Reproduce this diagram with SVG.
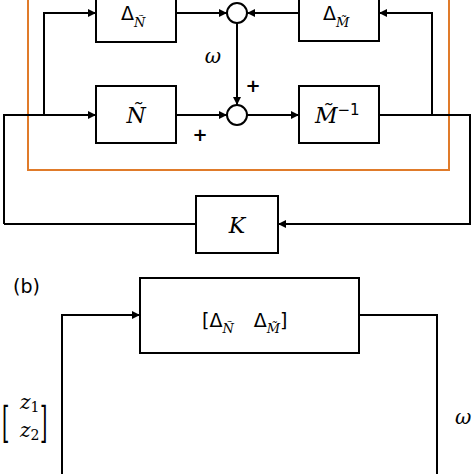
<svg xmlns="http://www.w3.org/2000/svg" width="474" height="474" viewBox="0 0 474 474">
<style>
.box{fill:#fff;stroke:#000;stroke-width:2}
.ln{fill:none;stroke:#000;stroke-width:2}
.ar{fill:none;stroke:#000;stroke-width:2;marker-end:url(#ah)}
.t{font-family:"DejaVu Serif","Liberation Serif",serif;fill:#000}
.it{font-style:italic;font-family:"DejaVu Serif","Liberation Serif",serif}
.s{font-family:"DejaVu Sans","Liberation Sans",sans-serif;fill:#000}
</style>
<defs>
<marker id="ah" viewBox="0 0 8 8" refX="8" refY="4" markerWidth="4" markerHeight="4" orient="auto" markerUnits="strokeWidth">
<path d="M0,0 L8,4 L0,8 z" fill="#000"/>
</marker>
</defs>
<rect width="474" height="474" fill="#fff"/>
<rect x="28" y="-10" width="421" height="180" fill="none" stroke="#E07B2A" stroke-width="2"/>
<g id="connectors">
<polyline class="ar" points="4,224 4,115 96,115"/>
<polyline class="ar" points="44,115 44,13 96,13"/>
<line class="ar" x1="176" y1="13" x2="227" y2="13"/>
<line class="ar" x1="299" y1="13" x2="247" y2="13"/>
<line class="ar" x1="237" y1="23" x2="237" y2="105"/>
<line class="ar" x1="176" y1="115" x2="227" y2="115"/>
<line class="ar" x1="247" y1="115" x2="299" y2="115"/>
<polyline class="ar" points="379,115 470,115 470,224 278,224"/>
<polyline class="ar" points="432,115 432,13 379,13"/>
<line class="ln" x1="196" y1="224" x2="4" y2="224"/>
<polyline class="ar" points="62,480 62,315 140,315"/>
<polyline class="ln" points="359,315 437,315 437,480"/>
</g>
<g id="delta_n"><rect class="box" x="96" y="-15" width="80" height="57"/>
<text class="s" x="121" y="20" font-size="19">Δ<tspan class="it" font-size="13" dy="7">Ñ</tspan></text></g>
<g id="delta_m"><rect class="box" x="299" y="-15" width="80" height="56"/>
<text class="s" x="323" y="20" font-size="19">Δ<tspan class="it" font-size="13" dy="7">M̃</tspan></text></g>
<g id="sum_top"><circle class="box" cx="237" cy="13" r="10"/></g>
<g id="sum_bottom"><circle class="box" cx="237" cy="115" r="10"/></g>
<g id="n_tilde"><rect class="box" x="96" y="86" width="80" height="57"/>
<text class="it" x="136" y="123" font-size="22" text-anchor="middle">Ñ</text></g>
<g id="m_inv"><rect class="box" x="299" y="86" width="80" height="57"/>
<text class="t" x="315" y="123" font-size="22"><tspan class="it">M̃</tspan><tspan class="s" font-size="15" dy="-8">−1</tspan></text></g>
<g id="k"><rect class="box" x="196" y="196" width="82" height="57"/>
<text class="it" x="237" y="233" font-size="22" text-anchor="middle">K</text></g>
<text class="it" x="213" y="63" font-size="20" text-anchor="middle">ω</text>
<text class="s" x="253" y="92" font-size="18" font-weight="bold" text-anchor="middle">+</text>
<text class="s" x="200" y="141" font-size="18" font-weight="bold" text-anchor="middle">+</text>
<text class="s" x="13" y="293" font-size="19">(b)</text>
<g id="delta_block"><rect class="box" x="140" y="278" width="219" height="75"/>
<text class="s" x="202" y="327" font-size="19">[Δ<tspan class="it" font-size="13" dy="6">Ñ</tspan><tspan dy="-6" dx="20">Δ</tspan><tspan class="it" font-size="13" dy="6">M̃</tspan><tspan dy="-6">]</tspan></text></g>
<text class="t" transform="translate(2,437) scale(1,2.3)" font-size="19">[</text>
<text class="t" transform="translate(40,437) scale(1,2.3)" font-size="19">]</text>
<text class="t" x="20" y="409" font-size="20"><tspan class="it">z</tspan><tspan font-size="14" dy="3">1</tspan></text>
<text class="t" x="20" y="437" font-size="20"><tspan class="it">z</tspan><tspan font-size="14" dy="3">2</tspan></text>
<text class="it" x="455" y="424" font-size="20">ω</text>
</svg>
